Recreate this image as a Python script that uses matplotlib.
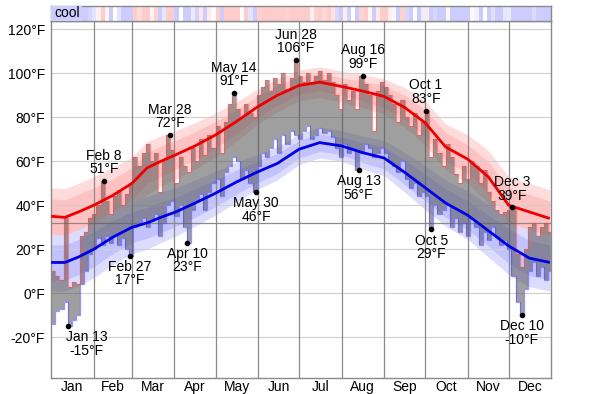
import numpy as np
import matplotlib
matplotlib.use('Agg')
import matplotlib.pyplot as plt
from matplotlib.patches import Rectangle

plt.rcParams['font.family'] = ['Liberation Sans', 'DejaVu Sans']

# ---------------- data ----------------
months = ['Jan', 'Feb', 'Mar', 'Apr', 'May', 'Jun', 'Jul', 'Aug', 'Sep', 'Oct', 'Nov', 'Dec']
month_start = [0, 31, 59, 90, 120, 151, 181, 212, 243, 273, 304, 334, 365]

# observed highs / lows, one value per 3-day block starting Jan 1
block_len = 3
daily_high = [10, 8, 6, 34, 3, 5, 4, 26, 28, 34, 36,
              40, 51, 42, 36, 44, 47, 40, 45, 50,
              62, 58, 64, 68, 60, 64, 46, 60, 72, 65,
              50, 62, 58, 55, 66, 60, 70, 63, 72, 66,
              76, 64, 78, 86, 91, 84, 80, 86, 82, 80, 90,
              94, 97, 92, 98, 95, 100, 93, 98, 106, 99,
              96, 100, 95, 99, 101, 97, 100, 96, 90, 84,
              95, 88, 92, 84, 99, 95, 90, 74, 92, 96,
              94, 90, 86, 78, 88, 80, 76, 82, 72, 78,
              83, 62, 70, 64, 58, 68, 62, 54, 50, 58,
              52, 60, 58, 50, 56, 46, 42, 38, 36, 37,
              38, 39, 18, 12, 20, 30, 32, 26, 30, 32, 28]
daily_low = [-14, -8, -7, -4, -15, -12, -10, 4, 10, 18, 20,
             25, 22, 26, 23, 27, 22, 25, 20, 17,
             30, 32, 34, 30, 33, 36, 26, 32, 40, 42,
             35, 40, 30, 23, 38, 42, 45, 38, 46, 50,
             52, 44, 55, 58, 62, 60, 52, 56, 50, 46, 58,
             64, 62, 66, 70, 64, 72, 68, 74, 72, 70,
             74, 76, 70, 72, 75, 73, 74, 71, 66, 62,
             68, 64, 66, 56, 64, 68, 66, 62, 64, 66,
             64, 60, 58, 55, 60, 52, 48, 50, 44, 46,
             44, 29, 40, 36, 38, 40, 30, 34, 28, 32,
             26, 34, 30, 22, 28, 24, 30, 26, 22, 24,
             20, 8, -4, -10, 2, 10, 14, 8, 12, 6, 10]

# climatological normals
norm_days = [0, 10, 20, 31, 45, 59, 70, 80, 91, 105, 120, 135, 150, 165, 181,
             196, 212, 227, 243, 258, 273, 288, 304, 319, 334, 349, 364]
norm_high = [35, 34.5, 37, 40, 44.5, 50, 57, 60, 63, 67, 72, 78, 84.5, 90, 94.5,
             96, 94, 92, 89.5, 84.5, 77.5, 66.5, 61, 53, 40, 37, 34]
norm_low = [14, 14, 16.5, 20, 25.5, 30, 32, 34.5, 37, 41, 45.5, 50.5, 55, 59, 65.5,
            68.5, 67, 64, 61.5, 55, 48, 41, 35.5, 28.5, 21.5, 16, 14]
band_outer = [13, 13, 13, 13, 12.5, 12, 12, 11.5, 11, 10.5, 10, 9, 8, 7.5, 7,
              7, 7, 7.5, 8, 9, 10, 10.5, 11, 12, 13, 13, 13]
band_inner = [8, 8, 8, 8, 7.5, 7, 7, 7, 6.5, 6.5, 6, 5.5, 5, 4.5, 4,
              4, 4, 4.5, 5, 5.5, 6, 6.5, 6.5, 7, 8, 8, 8]

# annotated extremes
ann_labels = ['Jan 13', 'Feb 8', 'Feb 27', 'Mar 28', 'Apr 10', 'May 14', 'May 30',
              'Jun 28', 'Aug 13', 'Aug 16', 'Oct 1', 'Oct 5', 'Dec 3', 'Dec 10']
ann_days = [12, 38, 57, 86, 99, 133, 149, 178, 224, 227, 273, 277, 336, 343]
ann_vals = [-15, 51, 17, 72, 23, 91, 46, 106, 56, 99, 83, 29, 39, -10]
ann_side = ['below', 'above', 'below', 'above', 'below', 'above', 'below',
            'above', 'below', 'above', 'above', 'below', 'above', 'below']

year_summary = 'cool'

# ---------------- figure ----------------
W_PX, H_PX = 600, 394
fig = plt.figure(figsize=(W_PX / 100, H_PX / 100), dpi=100)
left = 50.5 / W_PX
width = 500 / W_PX
ax = fig.add_axes([left, (H_PX - 377.7) / H_PX, width, (377.7 - 21) / H_PX])
ax.set_xlim(-0.5, 364.5)
ax.set_ylim(-38.4, 123.8)

nd = np.array(norm_days, float)
nh = np.array(norm_high, float)
nl = np.array(norm_low, float)
bo = np.array(band_outer, float)
bi = np.array(band_inner, float)

# percentile bands
ax.fill_between(nd, nh - bo, nh + bo, color='#ffdcdc', lw=0, zorder=1)
ax.fill_between(nd, nl - bo, nl + bo, color='#dcdcff', lw=0, zorder=1)
ax.fill_between(nd, nh - bi, nh + bi, color='#ffc2c2', lw=0, zorder=1.1)
ax.fill_between(nd, nl - bi, nl + bi, color='#c2c2ff', lw=0, zorder=1.1)

# gridlines
for v in range(-20, 121, 20):
    ax.axhline(v, color='#cfcfcf', lw=0.8, zorder=1.5)
ax.axhline(32, color='#8a8a8a', lw=0.9, zorder=1.6)
for d in month_start[1:-1]:
    ax.axvline(d, color='#8a8a8a', lw=0.9, zorder=1.6)

# observed daily range
hi = np.array(daily_high, float)
lo = np.array(daily_low, float)
edges = np.append(np.arange(0, 365, block_len), 365)[:len(hi) + 1]
ax.stairs(hi, edges, baseline=lo, fill=True, color='#555555', alpha=0.56, lw=0, zorder=2)
ax.stairs(hi, edges, baseline=None, color='#ff5050', alpha=0.6, lw=0.9, zorder=2.2)
ax.stairs(lo, edges, baseline=None, color='#5050ff', alpha=0.6, lw=0.9, zorder=2.2)

# normal lines
ax.plot(nd, nh, color='#ee0000', lw=2.0, zorder=4, solid_capstyle='butt')
ax.plot(nd, nl, color='#0000e6', lw=2.0, zorder=4, solid_capstyle='butt')

# annotations
dx_pts = {'Jan 13': 13}
for lab, d, v, side in zip(ann_labels, ann_days, ann_vals, ann_side):
    ax.plot(d + 0.5, v, 'o', color='black', ms=3, zorder=6)
    txt = f'{lab}\n{v}°F'
    dx = dx_pts.get(lab, 0)
    if side == 'above':
        ax.annotate(txt, (d + 0.5, v), xytext=(dx, 3.5), textcoords='offset points',
                    ha='center', va='bottom', fontsize=10, linespacing=0.95, zorder=7)
    else:
        ax.annotate(txt, (d + 0.5, v), xytext=(dx, -3), textcoords='offset points',
                    ha='center', va='top', fontsize=10, linespacing=0.95, zorder=7)

# axes styling
ax.set_yticks(range(-20, 121, 20))
ax.set_yticklabels([f'{v}°F' for v in range(-20, 121, 20)])
mids = [(month_start[i] + month_start[i + 1]) / 2 for i in range(12)]
ax.set_xticks(mids)
ax.set_xticklabels(months)
ax.tick_params(length=0, labelsize=10, colors='black')
ax.tick_params(axis='y', pad=4)
ax.tick_params(axis='x', pad=1.5)
for s in ax.spines.values():
    s.set_color('#8a8a8a')
    s.set_linewidth(1)

# top anomaly strip
sax = fig.add_axes([left, (H_PX - 20.5) / H_PX, width, 14.5 / H_PX])
sax.set_xlim(-0.5, 364.5)
sax.set_ylim(0, 1)
centers = edges[:-1] + np.diff(edges) / 2
norm_mean = np.interp(centers, nd, (nh + nl) / 2)
anom = (hi + lo) / 2 - norm_mean
cols = []
for a in anom:
    t = min(abs(a) / 4.0, 1.0)
    base = np.array([1.0, 0.8, 0.8]) if a > 0 else np.array([0.8, 0.8, 1.0])
    cols.append(tuple(np.array([1, 1, 1]) * (1 - t) + base * t))
sax.bar(centers, 1, width=np.diff(edges), bottom=0, color=cols, lw=0)
sax.add_patch(Rectangle((-0.5, 0), 23, 1, color='#ccccff', lw=0, zorder=3))
sax.text(2, 0.5, year_summary, ha='left', va='center', fontsize=10, zorder=4)
sax.set_xticks([])
sax.set_yticks([])
for s in sax.spines.values():
    s.set_color('#8a8a8a')
    s.set_linewidth(1)

fig.savefig('out.png', dpi=100)
